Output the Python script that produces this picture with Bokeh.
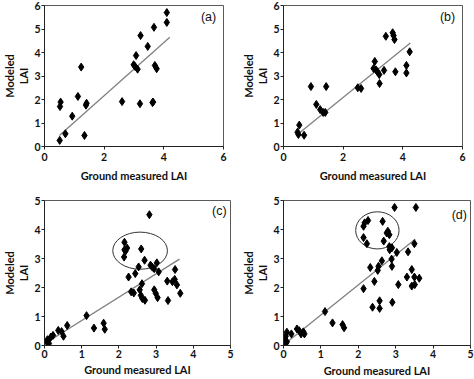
from bokeh.plotting import figure
from bokeh.layouts import column, row
from bokeh.models import Label, FixedTicker
from bokeh.embed import file_html
from bokeh.resources import INLINE

# ---------------- data ----------------
# Panel (a)
a_x = [4.1, 4.1, 3.67, 3.22, 3.46, 3.07, 2.99, 3.04, 3.12, 3.70, 3.76, 1.23, 1.12,
       0.54, 0.52, 1.41, 1.39, 0.93, 0.70, 1.34, 0.51, 2.60, 3.20, 3.64, 3.62]
a_y = [5.70, 5.28, 5.07, 4.72, 4.26, 3.87, 3.48, 3.40, 3.29, 3.45, 3.31, 3.38, 2.13,
       1.89, 1.70, 1.84, 1.76, 1.29, 0.54, 0.47, 0.26, 1.91, 1.82, 1.89, 1.87]
a_fit_x = [0.5, 4.2]
a_fit_y = [0.47, 4.65]

# Panel (b)
b_x = [3.43, 3.66, 3.69, 3.72, 4.23, 3.06, 3.02, 3.10, 3.21, 3.37, 3.75, 4.12, 4.12,
       3.22, 2.49, 2.60, 0.92, 1.43, 1.10, 1.23, 1.33, 1.40, 0.53, 0.47, 0.50, 0.69,
       3.15]
b_y = [4.69, 4.84, 4.72, 4.55, 4.03, 3.62, 3.32, 3.26, 3.06, 3.24, 3.18, 3.45, 3.13,
       2.68, 2.50, 2.47, 2.55, 2.55, 1.79, 1.57, 1.45, 1.45, 0.91, 0.61, 0.51, 0.48,
       3.18]
b_fit_x = [0.55, 4.25]
b_fit_y = [0.60, 4.40]

# Panel (c)
c_x = [2.82, 2.15, 2.22, 2.15, 2.18, 2.14, 2.60, 2.69, 2.53, 2.85, 2.90, 2.95, 3.02,
       3.07, 2.44, 2.26, 2.62, 3.51, 3.30, 3.44, 3.50, 3.56, 3.65, 2.33, 2.40, 2.56,
       2.59, 2.63, 2.70, 2.95, 2.99, 3.04, 3.32, 1.13, 1.59, 1.62, 1.33, 0.61, 0.37,
       0.46, 0.51, 0.23, 0.17, 0.10, 0.06, 0.12, 0.08]
c_y = [4.51, 3.56, 3.36, 3.30, 3.26, 3.05, 3.33, 2.94, 2.71, 2.77, 2.70, 2.65, 2.85,
       2.54, 2.48, 2.36, 2.13, 2.62, 2.22, 2.20, 2.28, 2.09, 1.80, 1.85, 1.81, 1.92,
       1.73, 1.62, 1.56, 1.92, 1.80, 1.65, 1.55, 1.03, 0.77, 0.56, 0.60, 0.69, 0.52,
       0.48, 0.32, 0.35, 0.29, 0.18, 0.13, 0.07, 0.20]
c_fit_x = [0.08, 3.63]
c_fit_y = [0.12, 2.98]
c_circle_x = [2.57]
c_circle_y = [3.27]
c_circle_w = [1.47]
c_circle_h = [1.28]

# Panel (d)
d_x = [2.97, 3.54, 2.17, 2.26, 2.14, 2.65, 2.79, 2.83, 2.76, 2.14, 2.23, 2.68, 2.83,
       2.84, 2.90, 3.03, 3.50, 3.33, 2.63, 2.89, 3.43, 3.30, 3.50, 3.63, 3.43, 3.51,
       3.07, 2.90, 2.54, 2.32, 2.52, 2.43, 2.14, 2.57, 2.38, 2.57, 2.91, 1.11, 1.31,
       1.58, 1.62, 0.36, 0.42, 0.53, 0.47, 0.56, 0.09, 0.21, 0.06, 0.03, 0.09, 0.06]
d_y = [4.76, 4.76, 4.23, 4.31, 4.11, 4.28, 3.94, 3.82, 3.88, 3.72, 3.51, 3.60, 3.41,
       3.30, 3.37, 3.21, 3.51, 3.23, 2.92, 2.98, 2.62, 2.36, 2.36, 2.32, 2.05, 2.10,
       2.10, 2.73, 2.73, 2.69, 2.59, 2.21, 1.96, 1.54, 1.32, 1.28, 1.49, 1.17, 0.78,
       0.72, 0.61, 0.57, 0.51, 0.47, 0.40, 0.40, 0.46, 0.40, 0.32, 0.21, 0.13, 0.07]
d_fit_x = [0.05, 3.52]
d_fit_y = [0.07, 3.66]
d_circle_x = [2.51]
d_circle_y = [3.97]
d_circle_w = [1.16]
d_circle_h = [1.28]

ticks_6 = [0, 2, 4, 6]
ticks_6y = [0, 1, 2, 3, 4, 5, 6]
ticks_5 = [0, 1, 2, 3, 4, 5]

FONT = "Lato"


def make_panel(xs, ys, fx, fy, xmax, ymax, xt, yt, tag, tag_xy, w, h, borders,
               xstand, circle=None):
    bl, br, bt, bb = borders
    p = figure(width=w, height=h, x_range=(0, xmax), y_range=(0, ymax),
               output_backend="svg", toolbar_location=None,
               min_border_left=bl, min_border_right=br,
               min_border_top=bt, min_border_bottom=bb)
    p.xgrid.visible = False
    p.ygrid.visible = False
    p.outline_line_color = "#5a5a5a"
    p.outline_line_width = 1
    p.background_fill_color = "white"
    p.border_fill_color = "white"

    for ax, tk in ((p.xaxis, xt), (p.yaxis, yt)):
        ax.ticker = FixedTicker(ticks=tk)
        ax.minor_tick_line_color = None
        ax.axis_line_color = "#222222"
        ax.major_tick_line_color = "#222222"
        ax.major_tick_out = 3
        ax.major_tick_in = 0
        ax.major_label_text_font = FONT
        ax.major_label_text_font_style = "bold"
        ax.major_label_text_font_size = "10.5px"
        ax.major_label_text_color = "#111111"
        ax.axis_label_text_font = FONT
        ax.axis_label_text_font_style = "bold"
        ax.axis_label_text_font_size = "11px"
        ax.axis_label_text_color = "#111111"
    p.xaxis.major_label_standoff = xstand[0]
    p.xaxis.axis_label_standoff = xstand[1]
    p.yaxis.major_label_standoff = 1
    p.xaxis.axis_label = "Ground measured LAI"
    p.yaxis.axis_label = "Modeled\nLAI"
    p.yaxis.axis_label_standoff = 1
    p.yaxis.axis_label_text_line_height = 1.1

    p.line(fx, fy, line_color="#808080", line_width=1.3)
    if circle is not None:
        cx, cy, cw, ch = circle
        p.ellipse(x=cx, y=cy, width=cw, height=ch, fill_color=None,
                  line_color="#333333", line_width=1)
    p.scatter(xs, ys, marker="diamond", size=8, fill_color="black",
              line_color="black")
    p.add_layout(Label(x=tag_xy[0], y=tag_xy[1], text=tag, text_align="center",
                       text_baseline="middle", text_font="Liberation Sans",
                       text_font_size="12.5px", text_color="#111111"))
    return p


pa = make_panel(a_x, a_y, a_fit_x, a_fit_y, 6, 6, ticks_6, ticks_6y, "(a)",
                (5.5, 5.5), 237, 188, (43, 14, 5, 42), (3, 5))
pb = make_panel(b_x, b_y, b_fit_x, b_fit_y, 6, 6, ticks_6, ticks_6y, "(b)",
                (5.5, 5.5), 237, 188, (46, 12, 5, 41), (3, 5))
pc = make_panel(c_x, c_y, c_fit_x, c_fit_y, 5, 5, ticks_5, ticks_5, "(c)",
                (4.7, 4.65), 237, 191, (43, 7, 12, 32), (1, 2),
                circle=(c_circle_x, c_circle_y, c_circle_w, c_circle_h))
pd = make_panel(d_x, d_y, d_fit_x, d_fit_y, 5, 5, ticks_5, ticks_5, "(d)",
                (4.7, 4.5), 237, 191, (46, 4, 12, 34), (1, 3),
                circle=(d_circle_x, d_circle_y, d_circle_w, d_circle_h))

layout = column(row(pa, pb, spacing=0), row(pc, pd, spacing=0), spacing=0)

open("out.html", "w").write(file_html(layout, INLINE))
